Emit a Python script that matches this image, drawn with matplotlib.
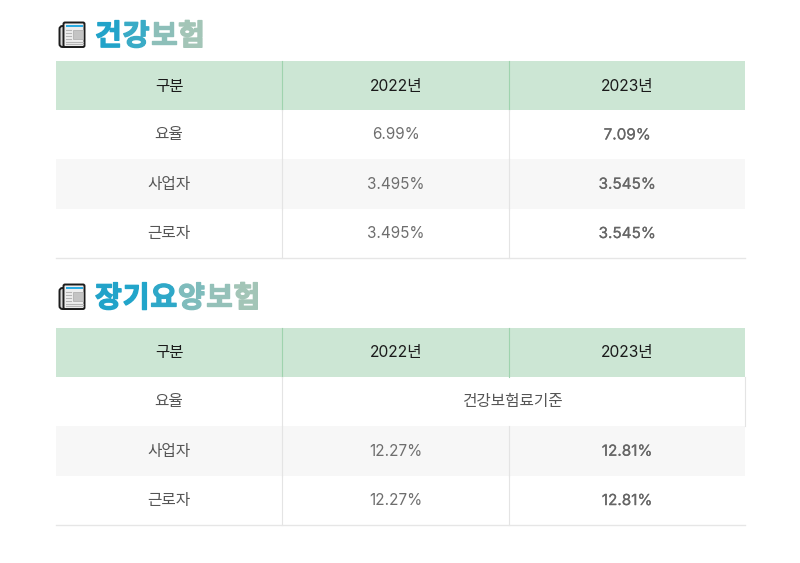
import matplotlib
matplotlib.use('Agg')
import matplotlib.pyplot as plt
import matplotlib.patheffects as pe
from matplotlib.patches import Rectangle, FancyBboxPatch

plt.rcParams['font.family'] = ['Noto Sans CJK KR', 'DejaVu Sans']
NUM_FONT = ['Inter', 'Noto Sans CJK KR']

columns = ['구분', '2022년', '2023년']
row_labels = ['요율', '사업자', '근로자']
health_2022 = ['6.99%', '3.495%', '3.495%']
health_2023 = ['7.09%', '3.545%', '3.545%']
care_2022 = ['건강보험료기준', '12.27%', '12.27%']
care_2023 = ['', '12.81%', '12.81%']
health_title = '건강보험'
care_title = '장기요양보험'
health_colors = ['#22a3c9', '#3aabc6', '#8dbfb9', '#a3c5b7']
care_colors = ['#22a3c9', '#22a5ca', '#2fa8c8', '#7fbcbc', '#95c1b9', '#a3c5b7']

fig = plt.figure(figsize=(8, 5.63), dpi=100)
ax = fig.add_axes([0, 0, 1, 1])
ax.set_xlim(0, 800)
ax.set_ylim(563, 0)
ax.axis('off')

col_x = [56, 282, 509, 744.5]
HEAD = '#cce6d4'
STRIPE = '#f7f7f7'
VLINE = '#e4e4e4'


def draw_icon(x, y):
    # small newspaper icon
    ax.add_patch(FancyBboxPatch((x + 1.5, y + 5), 22, 21, boxstyle='round,pad=0,rounding_size=3',
                                fc='#d8d8d8', ec='#1c1c1c', lw=1.4, zorder=3))
    ax.add_patch(FancyBboxPatch((x + 5.5, y + 1.5), 21, 24.5, boxstyle='round,pad=0,rounding_size=1.5',
                                fc='#eeeeee', ec='#1c1c1c', lw=1.4, zorder=4))
    ax.add_patch(Rectangle((x + 7.5, y + 4), 17.5, 2, fc='#29abe2', ec='none', zorder=5))
    ax.add_patch(Rectangle((x + 14.5, y + 9), 10, 9, fc='#c4c4c4', ec='#aaaaaa', lw=0.5, zorder=5))
    for dy in (9, 12, 15, 18):
        ax.plot([x + 7.5, x + 12.5], [y + dy, y + dy], color='#b5b5b5', lw=0.8, zorder=5)
    for dy in (20.5, 23):
        ax.plot([x + 7.5, x + 25], [y + dy, y + dy], color='#b5b5b5', lw=0.8, zorder=5)


def draw_title(text, colors, y):
    x = 95
    for ch, c in zip(text, colors):
        ax.text(x, y, ch, color=c, fontsize=21, fontweight='black', ha='left', va='center',
                path_effects=[pe.withStroke(linewidth=1.0, foreground=c)])
        x += 27.7


def draw_table(top, col1, col2, merged=False):
    row_h = 49.3
    head_h = 49
    ax.add_patch(Rectangle((col_x[0], top), col_x[3] - col_x[0], head_h, fc=HEAD, ec='none'))
    for xv in col_x[1:3]:
        ax.plot([xv, xv], [top, top + head_h], color='#9fd3ae', lw=0.8)
    for i, name in enumerate(columns):
        ax.text((col_x[i] + col_x[i + 1]) / 2 + 0.5, top + head_h / 2 + 0.5, name, color='#1a1a1a',
                fontsize=11.2, family=NUM_FONT, ha='center', va='center')
    y0 = top + head_h
    for i, label in enumerate(row_labels):
        y = y0 + i * row_h
        if i == 1:
            ax.add_patch(Rectangle((col_x[0], y), col_x[3] - col_x[0], row_h, fc=STRIPE, ec='none'))
        cy = y + row_h / 2 + 0.3
        ax.text((col_x[0] + col_x[1]) / 2, cy, label, color='#555555', fontsize=11.3, ha='center', va='center')
        if merged and i == 0:
            ax.text((col_x[1] + col_x[3]) / 2, cy, col1[i], color='#555555', fontsize=11.3, ha='center', va='center')
            ax.plot([col_x[3], col_x[3]], [y, y + row_h], color=VLINE, lw=0.8)
            ax.plot([col_x[1], col_x[1]], [y, y + row_h], color=VLINE, lw=0.8)
            continue
        ax.text((col_x[1] + col_x[2]) / 2 + 0.5, cy, col1[i], color='#6e6e6e', fontsize=11, family=NUM_FONT,
                ha='center', va='center')
        ax.text((col_x[2] + col_x[3]) / 2 + 0.5, cy, col2[i], color='#666666', fontsize=11, family=NUM_FONT,
                ha='center', va='center', path_effects=[pe.withStroke(linewidth=0.15, foreground='#666666')])
        for xv in col_x[1:3]:
            ax.plot([xv, xv], [y, y + row_h], color=VLINE, lw=0.8)
    bottom = y0 + 3 * row_h
    ax.plot([col_x[0], col_x[3]], [bottom, bottom], color='#e6e6e6', lw=1)


draw_icon(58, 21)
draw_title(health_title, health_colors, 36)
draw_table(61, health_2022, health_2023)

draw_icon(58, 283)
draw_title(care_title, care_colors, 298)
draw_table(328, care_2022, care_2023, merged=True)

fig.savefig('out.png', dpi=100)
